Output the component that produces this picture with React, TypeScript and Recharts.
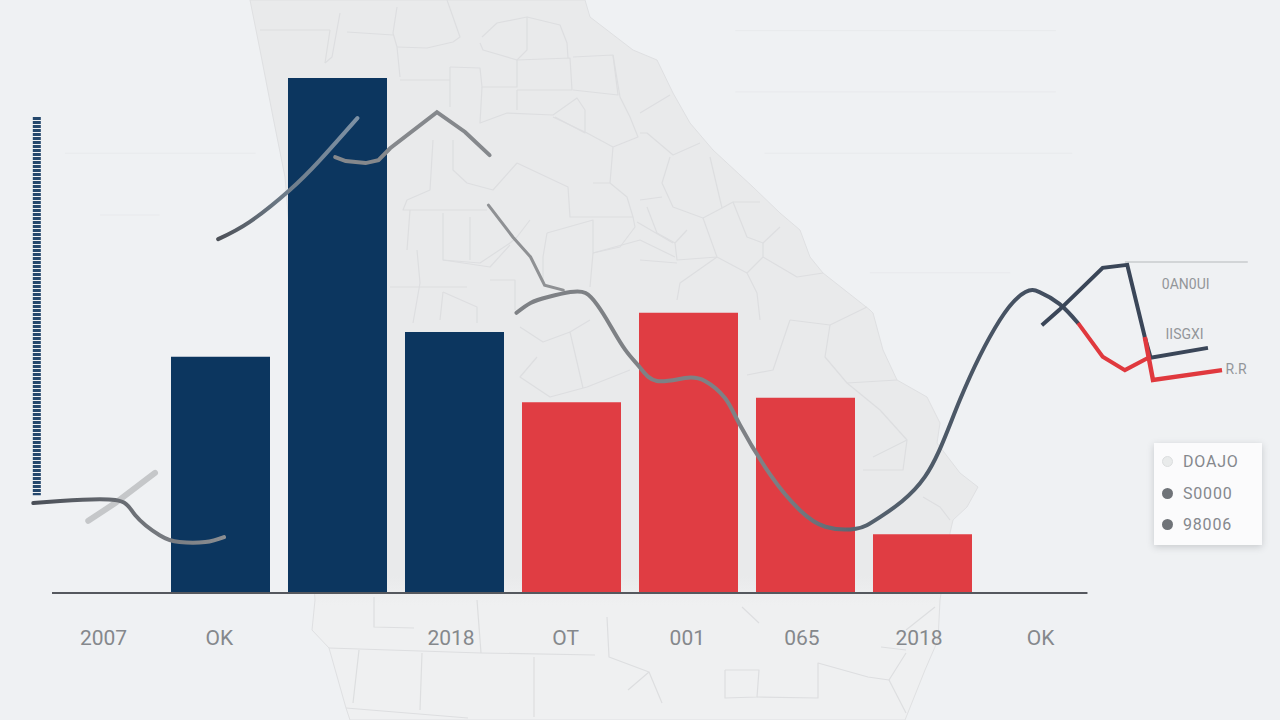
import { Bar, Cell, ComposedChart, Legend, Line, ReferenceDot, ReferenceLine, XAxis, YAxis } from "recharts";

// bars
const barSlots = [1, 2, 3, 4, 5, 6, 7];
const barValues = [47.8, 104.2, 52.8, 38.6, 56.7, 39.5, 11.9];
const barColors = ["#0c365f", "#0c365f", "#0c365f", "#e03d43", "#e03d43", "#e03d43", "#e03d43"];

// x axis
const tickSlots = [0, 0.99, 2.97, 3.95, 4.99, 5.97, 6.97, 8.01];
const tickLabels = ["2007", "OK", "2018", "OT", "001", "065", "2018", "OK"];

// line fragments, [slot, value]
const lowCurve = [[-0.6, 18.2], [-0.37, 18.6], [0.1, 18.8], [0.27, 15.8], [0.48, 11.7], [0.65, 10.3], [0.87, 10.3], [1.03, 11.3]];
const crossStroke = [[-0.13, 14.6], [0.1, 18.2], [0.44, 24.3]];
const riseCurve = [[0.98, 71.6], [1.25, 75.1], [1.59, 81.5], [1.85, 87.6], [2.17, 96.1]];
const peakCurve = [[1.98, 88.2], [2.07, 87.4], [2.24, 87], [2.35, 87.6], [2.45, 90], [2.85, 97.3], [3.09, 93.3], [3.3, 88.6]];
const fallCurve = [[3.29, 78.5], [3.5, 72], [3.65, 68], [3.77, 62.3], [3.93, 61.3]];
const mainCurve = [
  [3.53, 56.7], [3.65, 58.7], [3.8, 59.9], [3.99, 60.9], [4.12, 60.7], [4.22, 58.3], [4.33, 54.2], [4.46, 49.2],
  [4.59, 45.5], [4.73, 42.9], [4.97, 43.5], [5.14, 42.9], [5.31, 39.5], [5.44, 34], [5.7, 23.9], [5.95, 16.8],
  [6.17, 13.4], [6.43, 13], [6.64, 15.4], [7.02, 23.5], [7.32, 39.1], [7.66, 55.2], [7.88, 60.9], [8, 60.9],
  [8.17, 58.5], [8.33, 54.6],
];
const darkEnd = [[8.02, 54.2], [8.17, 57.3], [8.54, 65.8], [8.75, 66.4], [8.9, 51.8], [8.95, 47.6], [9.44, 49.6]];
const redDip = [[8.33, 54.6], [8.54, 47.8], [8.73, 45.1], [8.93, 47.6]];
const redEnd = [[8.9, 51.8], [8.97, 43.1], [9.56, 45.1]];

// faint guide lines, [from slot, to slot, value]
const guides = [
  [5.4, 8.14, 113.8], [5.4, 8.14, 101.4], [5.65, 8.28, 89], [6.55, 7.75, 64.8],
  [-0.33, 1.3, 89], [-0.03, 0.48, 76.5],
];

const sideLabels = [
  { slot: 9.25, value: 62.5, text: "0AN0UI" },
  { slot: 9.24, value: 52.4, text: "IISGXI" },
  { slot: 9.68, value: 45.3, text: "R.R" },
];

const legendNames = ["DOAJO", "S0000", "98006"];
const legendDots = ["#e9ebeb", "#6f7378", "#6f7378"];

const barRows = barSlots.map((slot, i) => ({ slot, value: barValues[i] }));
const toRows = (pts: number[][]) => pts.map(([slot, value]) => ({ slot, value }));

// background map, only decoration behind the chart
const mapOutline =
  "250,0 260,50 273,117 285,177 295,300 305,450 315,600 312,630 329,648 346,708 350,720 905,720 925,670 938,640 940,600 950,533 953,520 967,507 978,487 960,473 937,443 940,423 927,397 897,380 883,350 873,313 870,310 823,273 810,257 800,230 780,213 753,187 713,150 690,123 673,93 657,60 633,50 590,17 585,0";
const mapBorders = [
  "260,30 330,30", "340,13 332,57 325,63", "330,30 325,63", "347,32 393,35", "397,7 393,33 397,47 400,77",
  "397,47 427,48 453,42 460,37 453,17 447,0", "400,80 450,80", "450,67 480,68 482,87 517,87 517,60 570,58 572,90 517,90",
  "573,57 613,55 618,95 573,90", "480,43 483,50 517,60 527,50 527,17 497,23 482,37", "527,17 560,25 567,43 568,58",
  "450,67 450,107", "482,87 480,123 507,113 553,115 577,98 585,110 585,133 555,117", "517,110 517,90",
  "613,55 620,97 630,117 638,137 613,147 610,183 593,183", "553,117 587,133 613,147",
  "517,163 493,190 467,183 453,170 453,140", "517,163 568,187 570,217 633,217 627,197 610,183",
  "433,140 430,190 407,200 403,210 487,210", "410,210 407,250", "443,213 443,260 480,263 510,243", "470,217 470,260",
  "530,220 517,237 510,243", "547,233 593,220 593,253 620,247 635,227 633,217",
  "640,113 670,95", "640,133 647,133 673,155 700,143", "670,157 662,183 673,207 703,218 722,208 710,157",
  "662,197 640,200", "722,208 733,202 760,202", "733,202 747,237 763,243 780,227",
  "703,218 717,257 747,273 763,257 763,243", "717,257 680,283 677,300", "687,230 675,243 677,260 717,257",
  "763,257 797,277 823,273", "747,273 757,293 760,320", "647,207 657,233 675,243", "640,260 677,263",
  "790,320 773,370 747,375", "790,320 830,325 867,307", "830,325 825,357 847,383 897,380",
  "880,410 907,440 903,470 863,470", "873,457 907,440", "847,383 880,410", "923,497 940,507 950,520",
  "417,250 420,283 413,323", "443,260 490,267 510,245", "390,287 467,287", "443,292 440,320", "443,292 477,307 477,323",
  "490,280 515,280 515,310", "547,233 543,257 543,280", "593,253 590,287", "593,253 640,240 675,257", "637,222 673,243",
  "520,327 543,342 570,332 583,388", "570,332 590,320", "537,357 520,377 550,397 587,387 630,370",
  "329,648 481,653 595,655", "359,650 353,703", "422,653 420,710", "346,708 468,718", "534,657 534,717",
  "374,597 374,627 414,628", "477,600 481,653", "607,617 609,657 649,672 628,690", "649,672 662,703",
  "742,607 759,623", "725,670 759,670 757,697 725,698 725,670", "757,697 818,698 818,663 868,677 889,680 906,653",
  "889,680 906,713", "881,647 906,650", "935,607 906,630",
];

function LegendBox() {
  return (
    <div style={{ width: 108, height: 102, background: "#fbfbfc", boxShadow: "0 2px 7px rgba(60,65,75,0.22)", boxSizing: "border-box", paddingTop: 3 }}>
      {legendNames.map((name, i) => (
        <div key={name} style={{ display: "flex", alignItems: "center", height: 31.5, paddingLeft: 8 }}>
          <span style={{ width: 11, height: 11, borderRadius: "50%", background: legendDots[i], border: i === 0 ? "1px solid #dcdedf" : "none", boxSizing: "border-box" }} />
          <span style={{ marginLeft: 10, fontFamily: "Roboto", fontSize: 16, letterSpacing: 0.8, color: "#85888d" }}>{name}</span>
        </div>
      ))}
    </div>
  );
}

export default function App() {
  return (
    <div style={{ position: "absolute", left: 0, top: 0, width: 1280, height: 720, background: "#eff1f3", overflow: "hidden" }}>
      <svg width={1280} height={720} style={{ position: "absolute", left: 0, top: 0 }}>
        <defs>
          <linearGradient id="mapFill" x1="0" y1="0" x2="0" y2="1">
            <stop offset="0.8" stopColor="#e9eaeb" />
            <stop offset="0.84" stopColor="#eff0f1" />
          </linearGradient>
        </defs>
        <polygon points={mapOutline} fill="url(#mapFill)" stroke="#dfe0e2" />
        {mapBorders.map((pts) => (
          <polyline key={pts} points={pts} fill="none" stroke="#dddee0" strokeWidth={1.2} strokeLinejoin="round" />
        ))}
      </svg>
      <div style={{ position: "absolute", left: 0, top: 0 }}>
        <ComposedChart width={1280} height={720} data={barRows} margin={{ top: 0, right: 0, bottom: 0, left: 0 }}>
          <defs>
            <linearGradient id="mainStroke" x1="0" y1="0" x2="1" y2="0">
              <stop offset="0.45" stopColor="#7e8185" />
              <stop offset="0.62" stopColor="#56626e" />
              <stop offset="1" stopColor="#3f4b5d" />
            </linearGradient>
            <linearGradient id="lowStroke" x1="0" y1="0" x2="1" y2="0">
              <stop offset="0" stopColor="#4a4f57" />
              <stop offset="1" stopColor="#8b8e92" />
            </linearGradient>
            <linearGradient id="riseStroke" x1="0" y1="0" x2="1" y2="0">
              <stop offset="0" stopColor="#4d5158" />
              <stop offset="0.5" stopColor="#6f7d8a" />
              <stop offset="1" stopColor="#7d91a5" />
            </linearGradient>
          </defs>
          <XAxis
            type="number"
            dataKey="slot"
            domain={[-0.8846, 10.0556]}
            allowDataOverflow
            ticks={tickSlots}
            interval={0}
            tickFormatter={(_v: number, i: number) => tickLabels[i]}
            axisLine={false}
            tickLine={false}
            tickMargin={31}
            height={127}
            tick={{ fontFamily: "Roboto", fontSize: 21, fill: "#85888c" }}
          />
          {/* same scale as the main axis, keeps the line points out of the bar width */}
          <XAxis xAxisId="lines" hide type="number" dataKey="slot" domain={[-0.8846, 10.0556]} allowDataOverflow height={127} />
          <YAxis hide type="number" domain={[0, 120]} allowDataOverflow />
          {guides.map(([from, to, value]) => (
            <ReferenceLine key={`${from}-${value}`} segment={[{ x: from, y: value }, { x: to, y: value }]} stroke="#e8eaec" />
          ))}
          <Bar dataKey="value" barSize={99} isAnimationActive={false} activeBar={false}>
            {barRows.map((row, i) => (
              <Cell key={row.slot} fill={barColors[i]} />
            ))}
          </Bar>
          <ReferenceLine segment={[{ x: -0.44, y: 0 }, { x: 8.41, y: 0 }]} stroke="#55585e" strokeWidth={2} />
          <ReferenceLine segment={[{ x: 8.73, y: 67 }, { x: 9.78, y: 67 }]} stroke="#c9cbce" strokeWidth={1.5} />
          <ReferenceLine segment={[{ x: -0.57, y: 96.3 }, { x: -0.57, y: 19.8 }]} stroke="#24476c" strokeWidth={8} strokeDasharray="3 1" />
          <Line xAxisId="lines" data={toRows(crossStroke)} dataKey="value" type="linear" dot={false} activeDot={false} stroke="#c5c7c9" strokeWidth={6} strokeLinecap="round" isAnimationActive={false} />
          <Line xAxisId="lines" data={toRows(lowCurve)} dataKey="value" type="natural" dot={false} activeDot={false} stroke="url(#lowStroke)" strokeWidth={4} strokeLinecap="round" isAnimationActive={false} />
          <Line xAxisId="lines" data={toRows(riseCurve)} dataKey="value" type="natural" dot={false} activeDot={false} stroke="url(#riseStroke)" strokeWidth={4} strokeLinecap="round" isAnimationActive={false} />
          <Line xAxisId="lines" data={toRows(peakCurve)} dataKey="value" type="linear" dot={false} activeDot={false} stroke="#85888c" strokeWidth={4} strokeLinecap="round" isAnimationActive={false} />
          <Line xAxisId="lines" data={toRows(fallCurve)} dataKey="value" type="linear" dot={false} activeDot={false} stroke="#8f9194" strokeWidth={3} strokeLinecap="round" isAnimationActive={false} />
          <Line xAxisId="lines" data={toRows(mainCurve)} dataKey="value" type="natural" dot={false} activeDot={false} stroke="url(#mainStroke)" strokeWidth={4} strokeLinecap="round" isAnimationActive={false} />
          <Line xAxisId="lines" data={toRows(redDip)} dataKey="value" type="linear" dot={false} activeDot={false} stroke="#e0393e" strokeWidth={4} isAnimationActive={false} />
          <Line xAxisId="lines" data={toRows(darkEnd)} dataKey="value" type="linear" dot={false} activeDot={false} stroke="#3a4658" strokeWidth={4} isAnimationActive={false} />
          <Line xAxisId="lines" data={toRows(redEnd)} dataKey="value" type="linear" dot={false} activeDot={false} stroke="#e0393e" strokeWidth={4.5} isAnimationActive={false} />
          {sideLabels.map((l) => (
            <ReferenceDot
              key={l.text}
              x={l.slot}
              y={l.value}
              r={0}
              stroke="none"
              label={{ value: l.text, position: "center", fill: "#93969a", fontSize: 14, fontFamily: "Roboto" }}
            />
          ))}
          <Legend content={<LegendBox />} layout="vertical" align="center" verticalAlign="middle" wrapperStyle={{ left: 1154, top: 443, width: 108, height: 102 }} />
        </ComposedChart>
      </div>
    </div>
  );
}
